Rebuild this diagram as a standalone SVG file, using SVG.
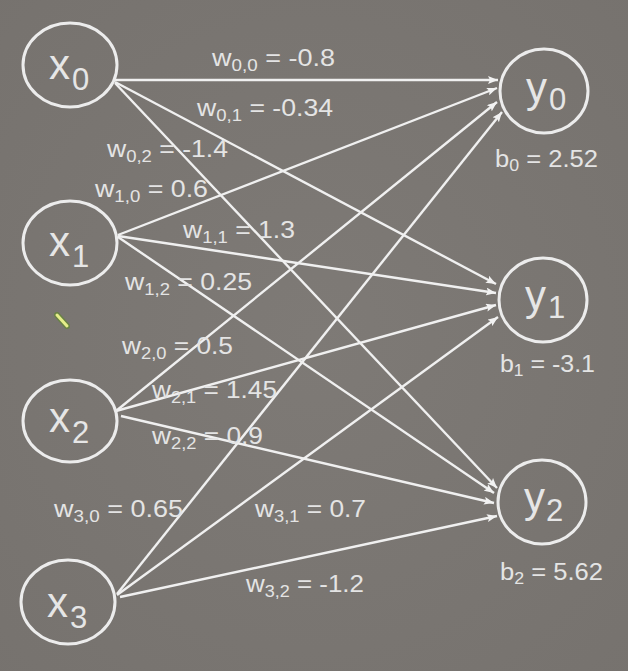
<svg xmlns="http://www.w3.org/2000/svg" width="628" height="671" viewBox="0 0 628 671">
<defs>
<marker id="ah" viewBox="0 0 10 8" refX="10" refY="4" markerWidth="10" markerHeight="8" markerUnits="userSpaceOnUse" orient="auto">
<path d="M0,0 L10,4 L0,8 L2,4 z" fill="#f2f2f2"/>
</marker>
<radialGradient id="bg" cx="50%" cy="50%" r="75%">
<stop offset="0" stop-color="#7e7a76"/>
<stop offset="1" stop-color="#76726e"/>
</radialGradient>
</defs>
<style>
.node ellipse{fill:none;stroke:#ececec;stroke-width:3}
.nl{font-family:"Liberation Sans",Arial,sans-serif;fill:#e6e6e6;font-size:42px}
.ns{font-size:31px}
.conn line{stroke:#f0f0f0;stroke-width:2.4;marker-end:url(#ah)}
.lb{font-family:"Liberation Sans",Arial,sans-serif;fill:#e4e4e4;font-size:23px}
.sb{font-size:16px}
</style>
<rect width="628" height="671" fill="url(#bg)"/>

<g id="connectors" class="conn">
<line x1="115" y1="80" x2="498" y2="80"/>
<line x1="115" y1="82" x2="496" y2="284"/>
<line x1="115" y1="83" x2="497" y2="488"/>
<line x1="118" y1="235" x2="497" y2="88"/>
<line x1="118" y1="236" x2="496" y2="293"/>
<line x1="118" y1="237" x2="494" y2="493"/>
<line x1="116" y1="411" x2="497" y2="102"/>
<line x1="116" y1="411" x2="496" y2="305"/>
<line x1="121" y1="416" x2="494" y2="503"/>
<line x1="117" y1="594" x2="502" y2="112"/>
<line x1="117" y1="595" x2="498" y2="317"/>
<line x1="120" y1="597" x2="497" y2="516"/>
</g>

<g id="x0" class="node"><ellipse cx="70" cy="65" rx="47" ry="42"/><text class="nl" x="49" y="79">x<tspan class="ns" x="72" y="90">0</tspan></text></g>
<g id="x1" class="node"><ellipse cx="70" cy="243" rx="47" ry="42"/><text class="nl" x="49" y="256">x<tspan class="ns" x="72" y="267">1</tspan></text></g>
<g id="x2" class="node"><ellipse cx="70" cy="421" rx="47" ry="41"/><text class="nl" x="49" y="432">x<tspan class="ns" x="72" y="443">2</tspan></text></g>
<g id="x3" class="node"><ellipse cx="68" cy="602" rx="47" ry="42"/><text class="nl" x="47" y="617">x<tspan class="ns" x="70" y="628">3</tspan></text></g>

<g id="y0" class="node"><ellipse cx="544" cy="91" rx="44" ry="42"/><text class="nl" x="526" y="102">y<tspan class="ns" x="549" y="110">0</tspan></text></g>
<g id="y1" class="node"><ellipse cx="543" cy="300" rx="44" ry="42"/><text class="nl" x="525" y="310">y<tspan class="ns" x="548" y="318">1</tspan></text></g>
<g id="y2" class="node"><ellipse cx="542" cy="502" rx="44" ry="42"/><text class="nl" x="524" y="512">y<tspan class="ns" x="546" y="521">2</tspan></text></g>

<g id="labels">
<text class="lb" x="212" y="66" textLength="123" lengthAdjust="spacingAndGlyphs">w<tspan class="sb" dy="5">0,0</tspan><tspan dy="-5"> = -0.8</tspan></text>
<text class="lb" x="197" y="116" textLength="136" lengthAdjust="spacingAndGlyphs">w<tspan class="sb" dy="5">0,1</tspan><tspan dy="-5"> = -0.34</tspan></text>
<text class="lb" x="107" y="157" textLength="121" lengthAdjust="spacingAndGlyphs">w<tspan class="sb" dy="5">0,2</tspan><tspan dy="-5"> = -1.4</tspan></text>
<text class="lb" x="95" y="197" textLength="113" lengthAdjust="spacingAndGlyphs">w<tspan class="sb" dy="5">1,0</tspan><tspan dy="-5"> = 0.6</tspan></text>
<text class="lb" x="183" y="238" textLength="112" lengthAdjust="spacingAndGlyphs">w<tspan class="sb" dy="5">1,1</tspan><tspan dy="-5"> = 1.3</tspan></text>
<text class="lb" x="125" y="290" textLength="127" lengthAdjust="spacingAndGlyphs">w<tspan class="sb" dy="5">1,2</tspan><tspan dy="-5"> = 0.25</tspan></text>
<text class="lb" x="122" y="354" textLength="111" lengthAdjust="spacingAndGlyphs">w<tspan class="sb" dy="5">2,0</tspan><tspan dy="-5"> = 0.5</tspan></text>
<text class="lb" x="152" y="398" textLength="125" lengthAdjust="spacingAndGlyphs">w<tspan class="sb" dy="5">2,1</tspan><tspan dy="-5"> = 1.45</tspan></text>
<text class="lb" x="152" y="444" textLength="111" lengthAdjust="spacingAndGlyphs">w<tspan class="sb" dy="5">2,2</tspan><tspan dy="-5"> = 0.9</tspan></text>
<text class="lb" x="54" y="517" textLength="129" lengthAdjust="spacingAndGlyphs">w<tspan class="sb" dy="5">3,0</tspan><tspan dy="-5"> = 0.65</tspan></text>
<text class="lb" x="255" y="517" textLength="111" lengthAdjust="spacingAndGlyphs">w<tspan class="sb" dy="5">3,1</tspan><tspan dy="-5"> = 0.7</tspan></text>
<text class="lb" x="246" y="592" textLength="118" lengthAdjust="spacingAndGlyphs">w<tspan class="sb" dy="5">3,2</tspan><tspan dy="-5"> = -1.2</tspan></text>
<text class="lb" x="495" y="167" textLength="103" lengthAdjust="spacingAndGlyphs">b<tspan class="sb" dy="4">0</tspan><tspan dy="-4"> = 2.52</tspan></text>
<text class="lb" x="500" y="372" textLength="95" lengthAdjust="spacingAndGlyphs">b<tspan class="sb" dy="4">1</tspan><tspan dy="-4"> = -3.1</tspan></text>
<text class="lb" x="500" y="580" textLength="103" lengthAdjust="spacingAndGlyphs">b<tspan class="sb" dy="4">2</tspan><tspan dy="-4"> = 5.62</tspan></text>
</g>

<line x1="57" y1="315" x2="67" y2="326" stroke="#5f8a2a" stroke-width="6" stroke-linecap="round" opacity="0.6"/>
<line x1="57" y1="315" x2="67" y2="326" stroke="#e6ee8a" stroke-width="3" stroke-linecap="round"/>
</svg>
